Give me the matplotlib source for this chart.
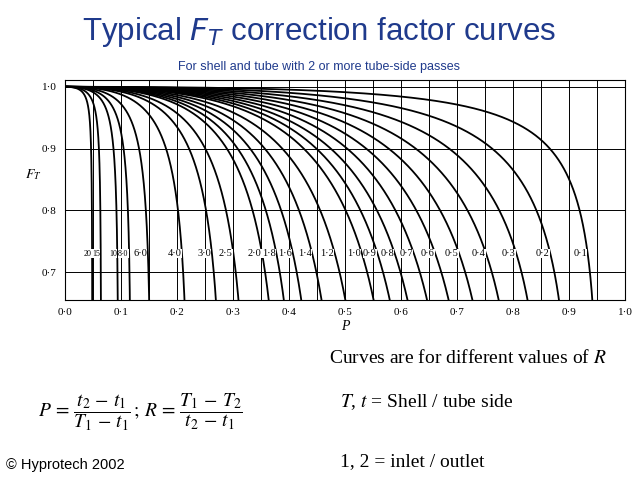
import numpy as np
import matplotlib
matplotlib.use("Agg")
import matplotlib.pyplot as plt

R_values = [20, 15, 10, 8, 6, 4, 3, 2.5, 2, 1.8, 1.6, 1.4, 1.2, 1.0, 0.9, 0.8, 0.7, 0.6, 0.5, 0.4, 0.3, 0.2, 0.1]
R_labels = ["20", "15", "10", "8·0", "6·0", "4·0", "3·0", "2·5", "2·0", "1·8", "1·6", "1·4", "1·2",
            "1·0", "0·9", "0·8", "0·7", "0·6", "0·5", "0·4", "0·3", "0·2", "0·1"]
xticks = [0.0, 0.1, 0.2, 0.3, 0.4, 0.5, 0.6, 0.7, 0.8, 0.9, 1.0]
xtick_labels = ["0·0", "0·1", "0·2", "0·3", "0·4", "0·5", "0·6", "0·7", "0·8", "0·9", "1·0"]
yticks = [0.7, 0.8, 0.9, 1.0]
ytick_labels = ["0·7", "0·8", "0·9", "1·0"]

def ft(R, P):
    S = np.sqrt(R**2 + 1)
    a = (2 - P*(R + 1 - S)) / (2 - P*(R + 1 + S))
    if abs(R - 1) < 1e-9:
        return (S*P/(1 - P)) / np.log(a)
    return S*np.log((1 - P)/(1 - R*P)) / ((R - 1)*np.log(a))

fig = plt.figure(figsize=(6.38, 4.79), dpi=100)
ax = fig.add_axes([65/638, 1-300/479, 560/638, 220/479])
ylo, yhi = 0.655, 1.011
serif = "Liberation Serif"
for i, (R, lab) in enumerate(zip(R_values, R_labels)):
    pmax = 2/(R + 1 + np.sqrt(R**2 + 1))
    if R < 1:
        pmax = min(pmax, 0.999)
    t = np.linspace(0, 1, 3000)
    P = pmax*(1 - (1 - t)**3)[1:-1]
    F = ft(R, P)
    m = np.isfinite(F) & (F > 0.6)
    ax.plot(P[m], F[m], color="black", lw=1.3)
    idx = np.argmin(np.abs(F[m] - 0.73))
    fs = 5.8 if i < 4 else 7.5
    ax.text(P[m][idx] - 0.001, 0.73, lab, fontsize=fs, family=serif, ha="right", va="center",
            bbox=dict(facecolor="white", edgecolor="none", pad=0.1))
for x in np.arange(0.05, 1.0, 0.05):
    ax.axvline(x, color="black", lw=0.7, zorder=0)
for y in [0.7, 0.8, 0.9, 1.0]:
    ax.axhline(y, color="black", lw=0.7, zorder=0)
ax.set_xlim(0, 1)
ax.set_ylim(ylo, yhi)
ax.set_xticks(xticks)
ax.set_xticklabels(xtick_labels, family=serif, fontsize=8)
ax.set_yticks(yticks)
ax.set_yticklabels(ytick_labels, family=serif, fontsize=8)
ax.tick_params(length=0, pad=6)
for s in ax.spines.values():
    s.set_linewidth(0.8)
ax.set_xlabel("P", family=serif, style="italic", fontsize=10, labelpad=2)
fig.text(33/638, 1-175/479, r"$F_T$", family=serif, fontsize=10, ha="center", va="center",
         math_fontfamily="stix")

fig.text(0.5, 1-32/479, r"Typical $F_T$ correction factor curves", fontsize=22.5, color="#1f3a8c",
         ha="center", va="center", family="Liberation Sans")
fig.text(0.5, 1-67/479, "For shell and tube with 2 or more tube-side passes", fontsize=9, color="#1f3a8c",
         ha="center", va="center", family="Liberation Sans")
fig.text(607/638, 1-358/479, r"Curves are for different values of $R$", fontsize=14, family=serif,
         ha="right", va="center", math_fontfamily="stix")
fig.text(38/638, 1-412/479, r"$P\,=\,\dfrac{t_2\,-\,t_1}{T_1\,-\,t_1}\,;\,R\,=\,\dfrac{T_1\,-\,T_2}{t_2\,-\,t_1}$",
         fontsize=14, family=serif, ha="left", va="center", math_fontfamily="stix")
fig.text(340/638, 1-402/479, r"$T$, $t$ = Shell / tube side", fontsize=14, family=serif, va="center",
         math_fontfamily="stix")
fig.text(340/638, 1-462/479, "1, 2 = inlet / outlet", fontsize=14, family=serif, va="center")
fig.text(6/638, 1-465/479, "© Hyprotech 2002", fontsize=10.5, family="Liberation Sans", va="center")
fig.savefig("out.png", dpi=100)
